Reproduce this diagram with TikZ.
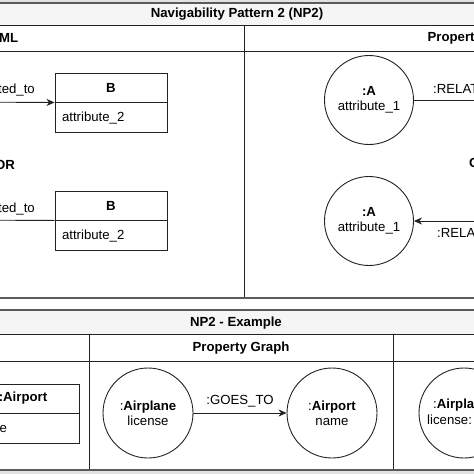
\documentclass[tikz,border=0pt]{standalone}
\usepackage{fontspec}
\setmainfont{Liberation Sans}
\usetikzlibrary{arrows.meta}
\definecolor{linec}{HTML}{222222}
\definecolor{outerc}{HTML}{5A5A5A}
\definecolor{barfill}{HTML}{F5F5F5}
\definecolor{stripc}{HTML}{E2E2E2}
\tikzset{
  txt/.style={inner sep=0pt, font=\fontsize{13.2}{15}\selectfont},
  btxt/.style={inner sep=0pt, font=\fontsize{13.2}{15}\selectfont\bfseries},
  umlhead/.style={draw=linec, line width=0.9pt, minimum width=112pt, minimum height=29pt, inner sep=0pt, font=\fontsize{13.2}{15}\selectfont\bfseries},
  umlbody/.style={draw=linec, line width=0.9pt, text width=98pt, inner xsep=7pt, inner ysep=0pt, minimum height=30pt, align=left, font=\fontsize{13.2}{15}\selectfont},
  pgcircle/.style={circle, draw=linec, line width=0.9pt, minimum size=89pt, inner sep=0pt, align=center, font=\fontsize{13.2}{15}\selectfont},
  conn/.style={draw=linec, line width=0.9pt},
  arr/.style={conn, -{Stealth[length=8pt,width=7pt,inset=2.5pt]}},
  grid/.style={draw=linec, line width=0.9pt},
  outer/.style={draw=outerc, line width=1.6pt},
}
\begin{document}
\begin{tikzpicture}[x=1pt,y=-1pt]
\useasboundingbox (0,0) rectangle (474,474);
\clip (0,0) rectangle (474,474);
% background strips
\fill[stripc] (0,0) rectangle (474,3);
\fill[stripc] (0,470) rectangle (474,474);
% ---------- top table ----------
\fill[barfill] (-10,3) rectangle (484,25);
\draw[outer] (-10,3) -- (484,3);
\draw[grid] (-10,25) -- (484,25);
\draw[grid] (-10,51) -- (484,51);
\draw[grid] (244,25) -- (244,298);
\draw[outer] (-10,298) -- (484,298);
\node[btxt] (t1) at (237,14) {Navigability Pattern 2 (NP2)};
\node[btxt] (h1) at (4,38) {UML};
\node[btxt] (h2) at (476,38) {Property Graph};
\node[btxt] (or1) at (5,165) {OR};
\node[btxt] (or2) at (479,163) {OR};
% UML boxes
\node[umlhead] (b1h) at (111,87.5) {B};
\node[umlbody, anchor=north] (b1b) at (b1h.south) {attribute\_2};
\coordinate (a1) at (-60,102);
\draw[arr] (a1) -- (b1b.north west);
\node[txt, anchor=east] (l1) at (35,90) {related\_to};
\node[umlhead] (b2h) at (111,205.5) {B};
\node[umlbody, anchor=north] (b2b) at (b2h.south) {attribute\_2};
\coordinate (a2) at (-60,220);
\draw[conn] (a2) -- (b2b.north west);
\node[txt, anchor=east] (l2) at (35,209) {related\_to};
% property graph nodes
\node[pgcircle] (A1) at (369,100) {\textbf{:A}\\attribute\_1};
\coordinate (r1) at (520,100);
\draw[conn] (A1) -- (r1);
\node[txt, anchor=west] (rl1) at (433,90) {:RELATED\_TO};
\node[pgcircle] (A2) at (369,221) {\textbf{:A}\\attribute\_1};
\coordinate (r2) at (520,221);
\draw[arr] (r2) -- (A2);
\node[txt, anchor=west] (rl2) at (437,234) {:RELATED\_TO};
% ---------- bottom table ----------
\fill[barfill] (-10,310) rectangle (484,334);
\draw[outer] (-10,310) -- (484,310);
\draw[grid] (-10,334) -- (484,334);
\draw[grid] (-10,361) -- (484,361);
\draw[grid] (89,334) -- (89,470);
\draw[grid] (393,334) -- (393,470);
\draw[outer] (-10,470) -- (484,470);
\node[btxt] (t2) at (236,323) {NP2 - Example};
\node[btxt] (h3) at (241,348) {Property Graph};
% UML example box
\node[umlhead] (c1h) at (23,398.5) {:Airport};
\node[umlbody, anchor=north] (c1b) at (c1h.south) {name};
% PG example
\node[pgcircle, minimum size=90pt] (P1) at (148,413) {:\textbf{Airplane}\\license};
\node[pgcircle, minimum size=90pt] (P2) at (332,413) {:\textbf{Airport}\\name};
\draw[arr] (P1) -- (P2);
\node[txt] (gl) at (240,401) {:GOES\_TO};
% right example (clipped)
\node[pgcircle, minimum size=90pt] (P3) at (464,413) {};
\node[txt, anchor=west] (p3a) at (433,405) {:\textbf{Airplane}};
\node[txt, anchor=west] (p3b) at (427,420) {license: ABC};
\end{tikzpicture}
\end{document}
